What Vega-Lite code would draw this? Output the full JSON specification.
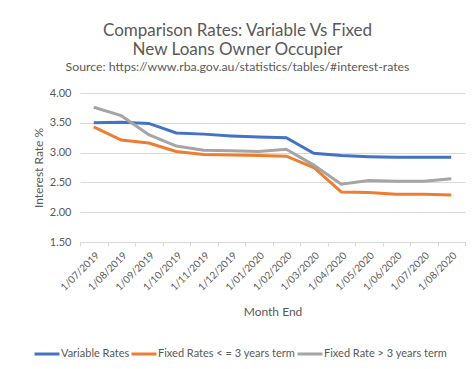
{
  "$schema": "https://vega.github.io/schema/vega-lite/v6.json",
  "width": 385,
  "height": 149,
  "autosize": "none",
  "padding": {"left": 80, "top": 93, "right": 9, "bottom": 127},
  "background": "white",
  "title": {
    "text": ["Comparison Rates: Variable Vs Fixed", "New Loans Owner Occupier"],
    "subtitle": "Source:  https://www.rba.gov.au/statistics/tables/#interest-rates",
    "anchor": "middle",
    "dx": -35,
    "offset": 13,
    "font": "Lato",
    "fontSize": 17,
    "fontWeight": "normal",
    "color": "#595959",
    "lineHeight": 19,
    "subtitleFont": "Lato",
    "subtitleFontSize": 12.3,
    "subtitleColor": "#595959",
    "subtitlePadding": 2
  },
  "data": {
    "values": [
      {"month": "1/07/2019", "series": "Variable Rates", "rate": 3.50},
      {"month": "1/08/2019", "series": "Variable Rates", "rate": 3.51},
      {"month": "1/09/2019", "series": "Variable Rates", "rate": 3.49},
      {"month": "1/10/2019", "series": "Variable Rates", "rate": 3.33},
      {"month": "1/11/2019", "series": "Variable Rates", "rate": 3.31},
      {"month": "1/12/2019", "series": "Variable Rates", "rate": 3.28},
      {"month": "1/01/2020", "series": "Variable Rates", "rate": 3.26},
      {"month": "1/02/2020", "series": "Variable Rates", "rate": 3.25},
      {"month": "1/03/2020", "series": "Variable Rates", "rate": 2.99},
      {"month": "1/04/2020", "series": "Variable Rates", "rate": 2.95},
      {"month": "1/05/2020", "series": "Variable Rates", "rate": 2.93},
      {"month": "1/06/2020", "series": "Variable Rates", "rate": 2.92},
      {"month": "1/07/2020", "series": "Variable Rates", "rate": 2.92},
      {"month": "1/08/2020", "series": "Variable Rates", "rate": 2.92},
      {"month": "1/07/2019", "series": "Fixed Rates < = 3 years term", "rate": 3.43},
      {"month": "1/08/2019", "series": "Fixed Rates < = 3 years term", "rate": 3.21},
      {"month": "1/09/2019", "series": "Fixed Rates < = 3 years term", "rate": 3.16},
      {"month": "1/10/2019", "series": "Fixed Rates < = 3 years term", "rate": 3.02},
      {"month": "1/11/2019", "series": "Fixed Rates < = 3 years term", "rate": 2.97},
      {"month": "1/12/2019", "series": "Fixed Rates < = 3 years term", "rate": 2.96},
      {"month": "1/01/2020", "series": "Fixed Rates < = 3 years term", "rate": 2.95},
      {"month": "1/02/2020", "series": "Fixed Rates < = 3 years term", "rate": 2.94},
      {"month": "1/03/2020", "series": "Fixed Rates < = 3 years term", "rate": 2.75},
      {"month": "1/04/2020", "series": "Fixed Rates < = 3 years term", "rate": 2.34},
      {"month": "1/05/2020", "series": "Fixed Rates < = 3 years term", "rate": 2.33},
      {"month": "1/06/2020", "series": "Fixed Rates < = 3 years term", "rate": 2.30},
      {"month": "1/07/2020", "series": "Fixed Rates < = 3 years term", "rate": 2.30},
      {"month": "1/08/2020", "series": "Fixed Rates < = 3 years term", "rate": 2.29},
      {"month": "1/07/2019", "series": "Fixed Rate > 3 years term", "rate": 3.76},
      {"month": "1/08/2019", "series": "Fixed Rate > 3 years term", "rate": 3.62},
      {"month": "1/09/2019", "series": "Fixed Rate > 3 years term", "rate": 3.30},
      {"month": "1/10/2019", "series": "Fixed Rate > 3 years term", "rate": 3.11},
      {"month": "1/11/2019", "series": "Fixed Rate > 3 years term", "rate": 3.04},
      {"month": "1/12/2019", "series": "Fixed Rate > 3 years term", "rate": 3.03},
      {"month": "1/01/2020", "series": "Fixed Rate > 3 years term", "rate": 3.02},
      {"month": "1/02/2020", "series": "Fixed Rate > 3 years term", "rate": 3.055},
      {"month": "1/03/2020", "series": "Fixed Rate > 3 years term", "rate": 2.79},
      {"month": "1/04/2020", "series": "Fixed Rate > 3 years term", "rate": 2.47},
      {"month": "1/05/2020", "series": "Fixed Rate > 3 years term", "rate": 2.53},
      {"month": "1/06/2020", "series": "Fixed Rate > 3 years term", "rate": 2.52},
      {"month": "1/07/2020", "series": "Fixed Rate > 3 years term", "rate": 2.52},
      {"month": "1/08/2020", "series": "Fixed Rate > 3 years term", "rate": 2.56}
    ]
  },
  "mark": {"type": "line", "strokeWidth": 3},
  "encoding": {
    "x": {
      "field": "month",
      "type": "ordinal",
      "sort": null,
      "scale": {"paddingInner": 0, "paddingOuter": 0},
      "axis": {
        "title": "Month End",
        "titleFont": "Lato",
        "titleFontSize": 12,
        "titleFontWeight": "normal",
        "titleColor": "#595959",
        "titlePadding": 14,
        "labelAngle": -45,
        "labelFont": "Lato",
        "labelFontSize": 10,
        "labelColor": "#595959",
        "labelPadding": 4,
        "tickBand": "extent",
        "tickColor": "#d9d9d9",
        "tickSize": 4,
        "domainColor": "#d9d9d9",
        "grid": false
      }
    },
    "y": {
      "field": "rate",
      "type": "quantitative",
      "scale": {"domain": [1.5, 4.0], "nice": false, "zero": false},
      "axis": {
        "title": "Interest Rate %",
        "titleFont": "Lato",
        "titleFontSize": 12,
        "titleFontWeight": "normal",
        "titleColor": "#595959",
        "titlePadding": 4,
        "values": [1.5, 2.0, 2.5, 3.0, 3.5, 4.0],
        "format": ".2f",
        "labelFont": "Lato",
        "labelFontSize": 11,
        "labelColor": "#595959",
        "labelPadding": 9,
        "ticks": false,
        "domain": false,
        "grid": true,
        "gridColor": "#d9d9d9"
      }
    },
    "color": {
      "field": "series",
      "type": "nominal",
      "scale": {
        "domain": ["Variable Rates", "Fixed Rates < = 3 years term", "Fixed Rate > 3 years term"],
        "range": ["#4472C4", "#ED7D31", "#A5A5A5"]
      },
      "legend": {
        "title": null,
        "orient": "none",
        "direction": "horizontal",
        "legendX": -47,
        "legendY": 247,
        "symbolType": "stroke",
        "symbolSize": 625,
        "symbolStrokeWidth": 3,
        "symbolOffset": 0,
        "labelOffset": 0,
        "columnPadding": -6,
        "labelFont": "Lato",
        "labelFontSize": 11,
        "labelColor": "#595959"
      }
    }
  },
  "config": {"view": {"stroke": null}}
}
